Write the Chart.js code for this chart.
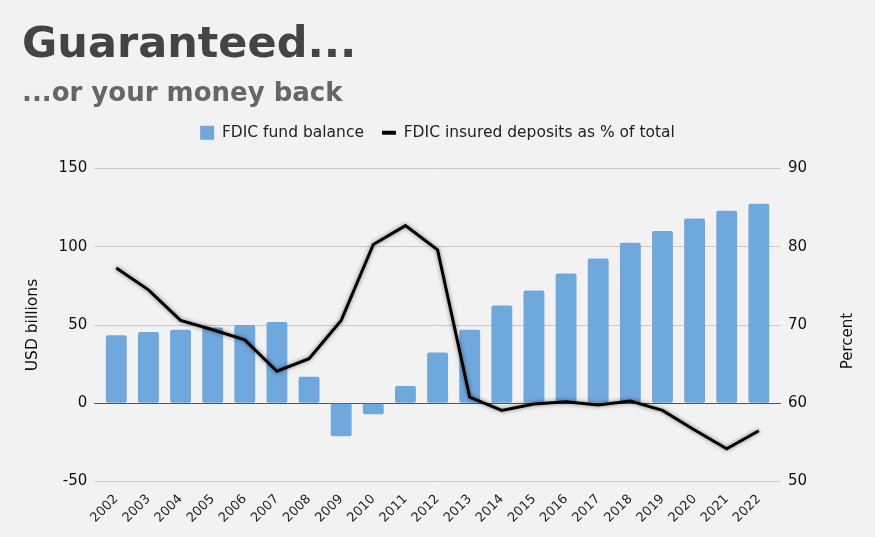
<!DOCTYPE html>
<html>
<head>
<meta charset="utf-8">
<script src="https://cdn.jsdelivr.net/npm/chart.js@4"></script>
<style>
  html, body { margin: 0; padding: 0; background: #f2f2f2; }
  #wrap { position: relative; width: 875px; height: 537px; overflow: hidden; }
  .title { position: absolute; left: 22px; top: 21px; font: bold 43px "DejaVu Sans", Verdana, sans-serif; line-height: 1; color: #444; }
  .subtitle { position: absolute; left: 22px; top: 79px; font: bold 26px "DejaVu Sans", Verdana, sans-serif; line-height: 1; color: #666; }
  canvas { position: absolute; left: 0; top: 0; }
</style>
</head>
<body>
<div id="wrap">
  <canvas id="chart" width="875" height="537"></canvas>
  <div class="title">Guaranteed...</div>
  <div class="subtitle">...or your money back</div>
</div>
<script>
// data
const years = ['2002', '2003', '2004', '2005', '2006', '2007', '2008', '2009', '2010', '2011',
    '2012', '2013', '2014', '2015', '2016', '2017', '2018', '2019', '2020', '2021', '2022'];
const fundBalance = [43.5, 45.5, 47, 48.5, 50, 52, 17, -21, -7, 11,
    32.5, 47, 62.5, 72, 83, 92.5, 102.5, 110, 118, 123, 127.5];
const insuredShare = [77.3, 74.5, 70.6, 69.4, 68.1, 64.1, 65.7, 70.6, 80.3, 82.7,
    79.6, 60.8, 59.1, 59.9, 60.2, 59.8, 60.3, 59.1, 56.6, 54.2, 56.5];
const leftTicks = [-50, 0, 50, 100, 150];
const rightTicks = [50, 60, 70, 80, 90];

const font = '"DejaVu Sans", Verdana, sans-serif';

// soft grey halo under the black line
const lineShadow = {
    id: 'lineShadow',
    beforeDatasetDraw(chart, args) {
        if (args.index !== 1) return;
        const ctx = chart.ctx;
        ctx.save();
        ctx.shadowColor = 'rgba(0,0,0,0.5)';
        ctx.shadowBlur = 4;
    },
    afterDatasetDraw(chart, args) {
        if (args.index !== 1) return;
        chart.ctx.restore();
    }
};

// extra gap under the legend
const legendGap = {
    id: 'legendGap',
    beforeInit(chart) {
        const fit = chart.legend.fit;
        chart.legend.fit = function () {
            fit.call(this);
            this.height += 18;
        };
    }
};

// right axis title reads bottom-to-top like the left one
const rightTitle = {
    id: 'rightTitle',
    afterDraw(chart) {
        const ctx = chart.ctx;
        const area = chart.chartArea;
        ctx.save();
        ctx.translate(848, (area.top + area.bottom) / 2 + 16);
        ctx.rotate(-Math.PI / 2);
        ctx.font = '15px ' + font;
        ctx.fillStyle = '#111';
        ctx.textAlign = 'center';
        ctx.textBaseline = 'middle';
        ctx.fillText('Percent', 0, 0);
        ctx.restore();
    }
};

new Chart(document.getElementById('chart').getContext('2d'), {
    data: {
        labels: years,
        datasets: [{
            type: 'bar',
            label: 'FDIC fund balance',
            data: fundBalance,
            yAxisID: 'y',
            backgroundColor: '#6fa8dc',
            borderRadius: 2,
            borderSkipped: false,
            barPercentage: 0.65,
            categoryPercentage: 1,
            pointStyle: 'rect',
            order: 2
        }, {
            type: 'line',
            label: 'FDIC insured deposits as % of total',
            data: insuredShare,
            yAxisID: 'y1',
            borderColor: '#000',
            backgroundColor: '#000',
            borderWidth: 3,
            pointRadius: 0,
            tension: 0,
            pointStyle: 'line',
            order: 1
        }]
    },
    options: {
        responsive: false,
        animation: false,
        layout: { padding: { top: 107, left: 20, right: 20, bottom: 9 } },
        plugins: {
            legend: {
                position: 'top',
                labels: {
                    usePointStyle: true,
                    boxWidth: 14,
                    boxHeight: 14,
                    pointStyleWidth: 14,
                    padding: 18,
                    color: '#222',
                    font: { family: font, size: 15.5 },
                    sort: (a, b) => a.datasetIndex - b.datasetIndex,
                    generateLabels: chart => {
                        const items = Chart.defaults.plugins.legend.labels.generateLabels(chart);
                        items.forEach(it => { if (it.datasetIndex === 1) it.lineWidth = 4; });
                        return items;
                    }
                }
            },
            tooltip: { enabled: false }
        },
        scales: {
            x: {
                grid: { display: false },
                border: { display: false },
                ticks: {
                    color: '#222',
                    font: { family: font, size: 13 },
                    minRotation: 45,
                    maxRotation: 45,
                    padding: 2
                }
            },
            y: {
                position: 'left',
                min: -50,
                max: 150,
                afterBuildTicks: axis => { axis.ticks = leftTicks.map(v => ({ value: v })); },
                title: { display: true, text: 'USD billions', color: '#111', font: { family: font, size: 15.5 }, padding: { bottom: 9 } },
                grid: {
                    color: ctx => ctx.tick && ctx.tick.value === 0 ? '#555' : '#c9c9c9',
                    lineWidth: 1,
                    tickLength: 6
                },
                border: { display: false },
                ticks: { color: '#111', font: { family: font, size: 15 }, padding: 7 }
            },
            y1: {
                position: 'right',
                min: 50,
                max: 90,
                afterBuildTicks: axis => { axis.ticks = rightTicks.map(v => ({ value: v })); },
                afterFit: axis => { axis.width += 41; },
                grid: {
                    drawOnChartArea: false,
                    color: ctx => ctx.tick && ctx.tick.value === 60 ? '#555' : '#c9c9c9',
                    tickLength: 6
                },
                border: { display: false },
                ticks: { color: '#111', font: { family: font, size: 15 }, padding: 7 }
            }
        }
    },
    plugins: [lineShadow, legendGap, rightTitle]
});
</script>
</body>
</html>
